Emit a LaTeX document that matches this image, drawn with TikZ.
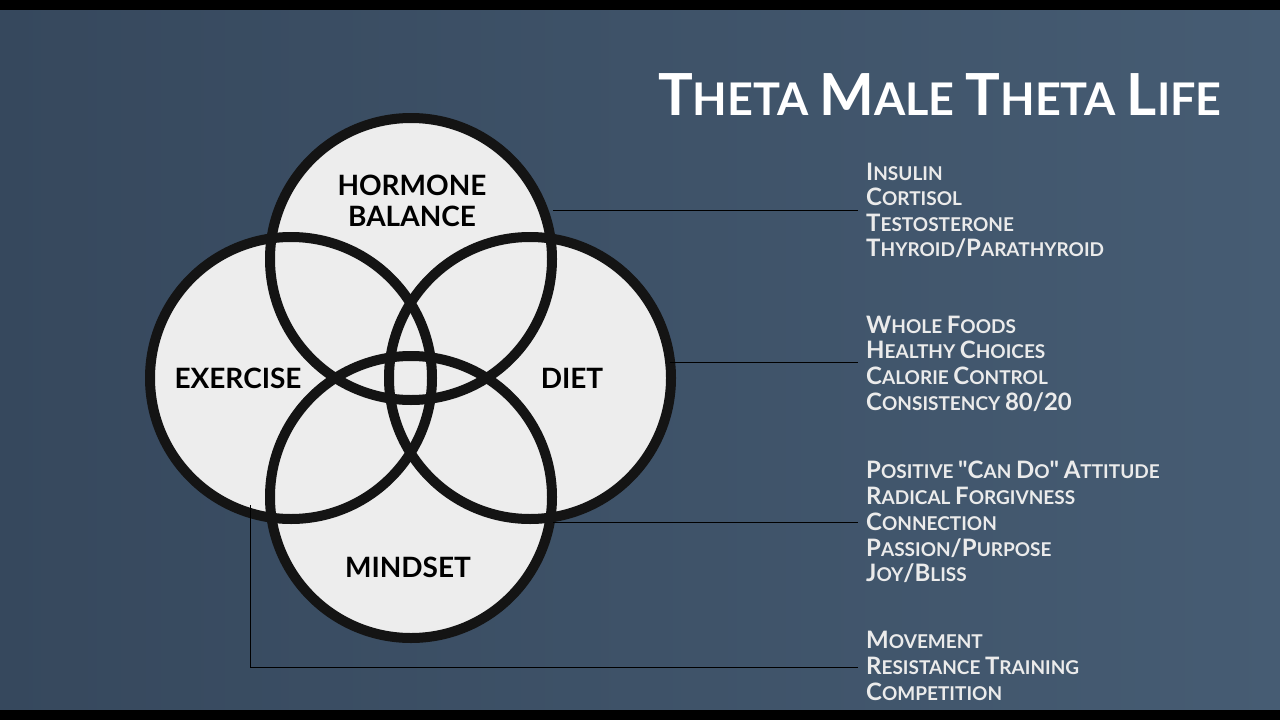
\documentclass[tikz,border=0pt]{standalone}
\usepackage{fontspec}
\setmainfont{Lato}
\newcommand{\SC}[2]{{\fontsize{24}{24}\selectfont #1}{\fontsize{19}{19}\selectfont #2}}
\newcommand{\TC}[2]{{\fontsize{58}{58}\selectfont #1}{\fontsize{45}{45}\selectfont #2}}
\tikzset{
  ring/.style={draw=black!92,line width=10pt},
  ringfill/.style={fill=white!93!black},
  lab/.style={font=\fontsize{28}{31}\selectfont\bfseries,text=black},
  item/.style={anchor=base west,text=white!92!black,font=\fontsize{19}{19}\selectfont\bfseries,inner sep=0},
  conn/.style={draw=black,line width=1pt}
}
\begin{document}
\begin{tikzpicture}[x=1pt,y=-1pt]
\useasboundingbox (0,0) rectangle (1280,720);
\fill[left color={rgb,255:red,54;green,72;blue,93}, right color={rgb,255:red,70;green,92;blue,115}] (0,10) rectangle (1280,710);
\fill[black] (0,0) rectangle (1280,10);
\fill[black] (0,710) rectangle (1280,720);
% circles
\coordinate (ct) at (411,259);
\coordinate (cl) at (291,378);
\coordinate (cr) at (530,378);
\coordinate (cb) at (411,497);
\foreach \c in {ct,cl,cr,cb} \fill[ringfill] (\c) circle (141);
\foreach \c in {ct,cl,cr,cb} \draw[ring] (\c) circle (141);
% labels
\node[lab,align=center] (hb) at (412,201) {HORMONE\\BALANCE};
\node[lab] (ex) at (238,378) {EXERCISE};
\node[lab] (di) at (572,378) {DIET};
\node[lab] (mi) at (408,567) {MINDSET};
% title
\node[anchor=base east,text=white,font=\fontsize{45}{45}\selectfont\bfseries,inner sep=0] (title) at (1222,115) {\TC{T}{HETA} \TC{M}{ALE} \TC{T}{HETA} \TC{L}{IFE}};
% lists
\node[item] (i1) at (866,180) {\SC{I}{NSULIN}};
\node[item] (i2) at (866,205) {\SC{C}{ORTISOL}};
\node[item] (i3) at (866,231) {\SC{T}{ESTOSTERONE}};
\node[item] (i4) at (866,256) {\SC{T}{HYROID}\SC{/}{}\SC{P}{ARATHYROID}};
\node[item] (d1) at (866,333) {\SC{W}{HOLE} \SC{F}{OODS}};
\node[item] (d2) at (866,358) {\SC{H}{EALTHY} \SC{C}{HOICES}};
\node[item] (d3) at (866,384) {\SC{C}{ALORIE} \SC{C}{ONTROL}};
\node[item] (d4) at (866,410) {\SC{C}{ONSISTENCY} \SC{80/20}{}};
\node[item] (m1) at (866,478) {\SC{P}{OSITIVE} \SC{\textquotedbl C}{AN} \SC{D}{O}\SC{\textquotedbl}{} \SC{A}{TTITUDE}};
\node[item] (m2) at (866,504) {\SC{R}{ADICAL} \SC{F}{ORGIVNESS}};
\node[item] (m3) at (866,530) {\SC{C}{ONNECTION}};
\node[item] (m4) at (866,556) {\SC{P}{ASSION}\SC{/}{}\SC{P}{URPOSE}};
\node[item] (m5) at (866,581) {\SC{J}{OY}\SC{/}{}\SC{B}{LISS}};
\node[item] (e1) at (866,648) {\SC{M}{OVEMENT}};
\node[item] (e2) at (866,674) {\SC{R}{ESISTANCE} \SC{T}{RAINING}};
\node[item] (e3) at (866,700) {\SC{C}{OMPETITION}};
% connectors
\coordinate (a1) at (553,210); \coordinate (a2) at (858,210);
\coordinate (b1) at (670,362); \coordinate (b2) at (858,362);
\coordinate (c1) at (553,522); \coordinate (c2) at (858,522);
\coordinate (e0) at (250,505); \coordinate (ee) at (858,667);
\draw[conn] (a1) -- (a2);
\draw[conn] (b1) -- (b2);
\draw[conn] (c1) -- (c2);
\draw[conn] (e0) |- (ee);
\end{tikzpicture}
\end{document}
